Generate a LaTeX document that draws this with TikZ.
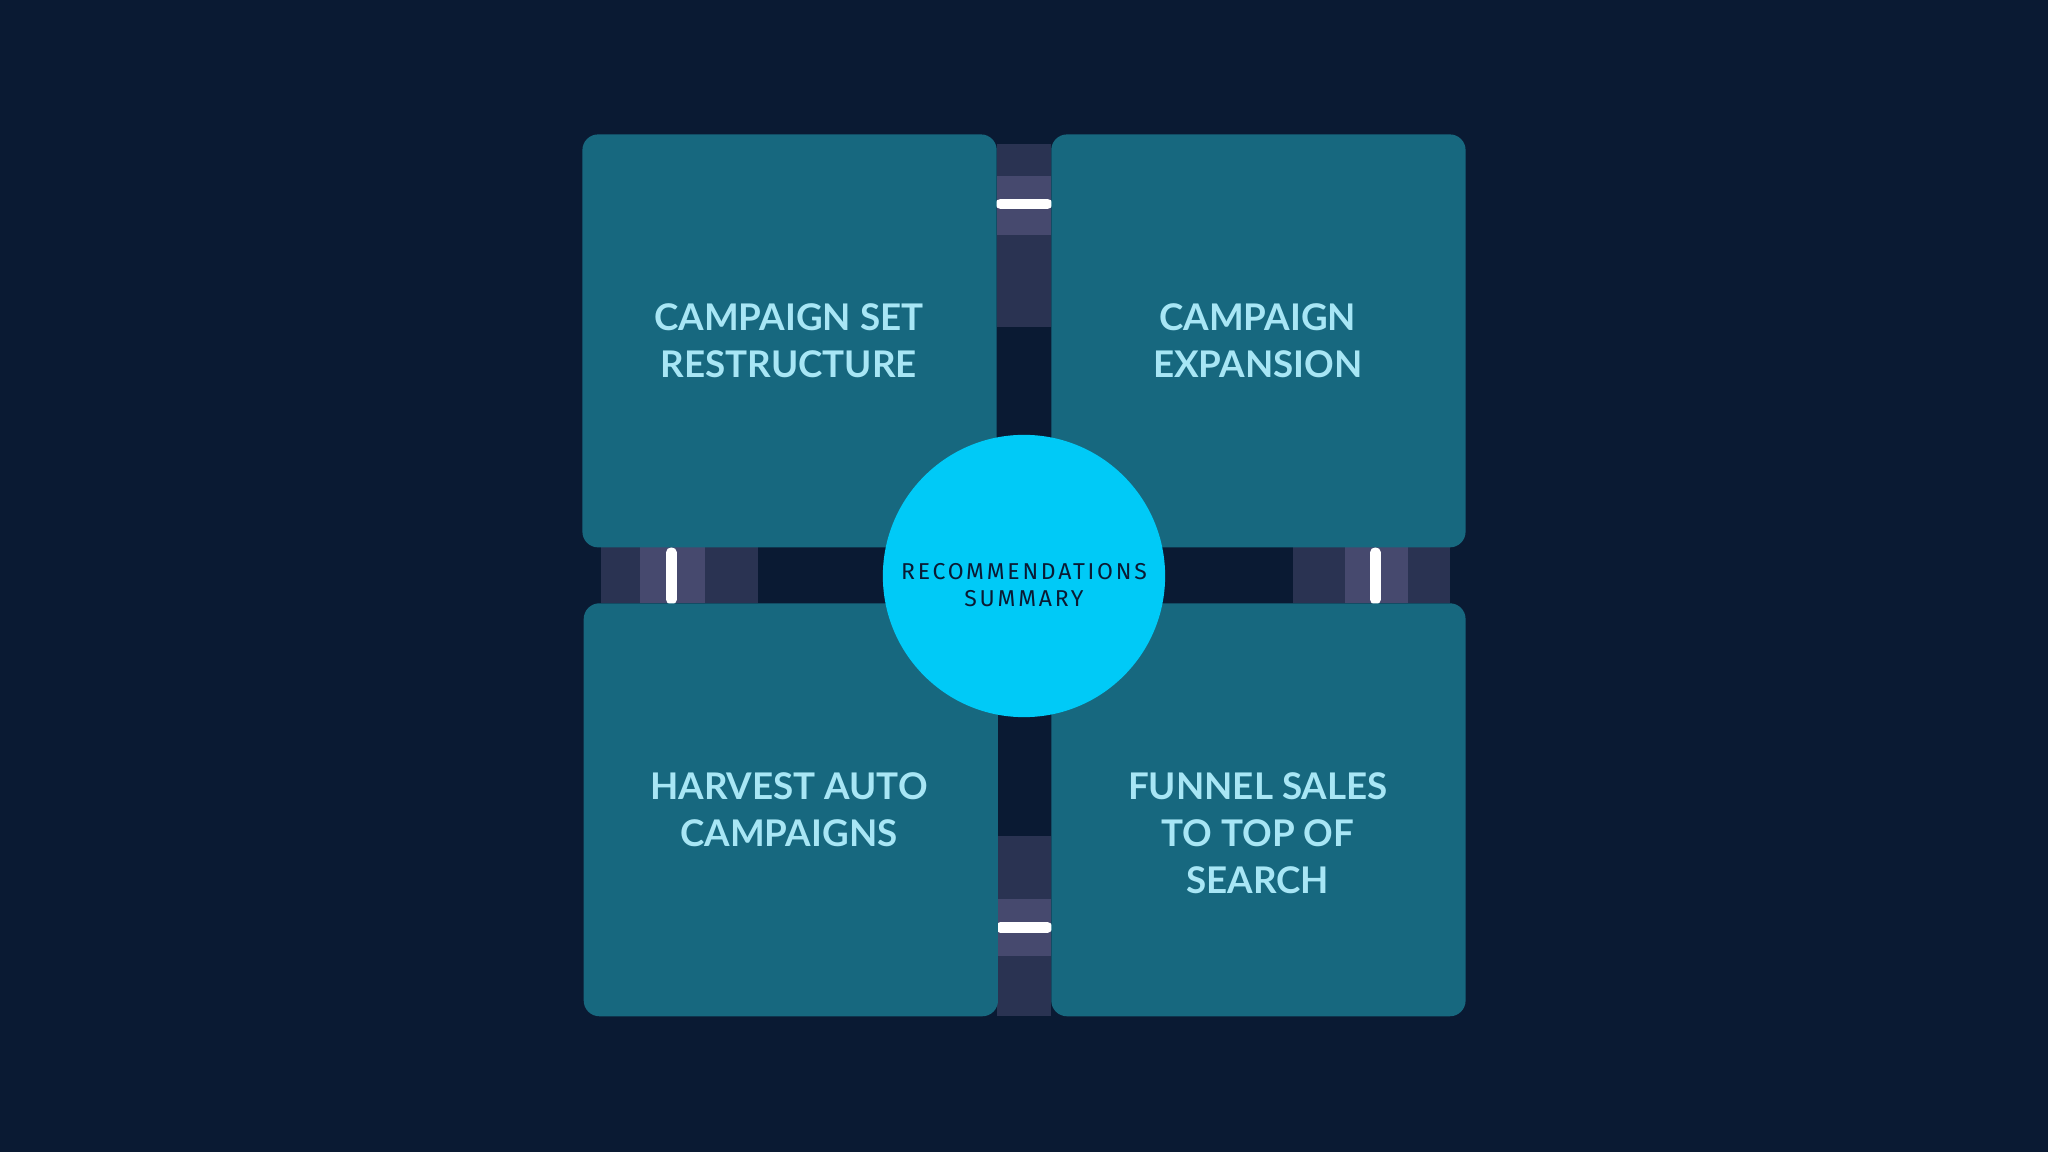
\documentclass[tikz,border=0pt]{standalone}
\usepackage{fontspec}
\setmainfont{Lato}
\newfontfamily\techfont{Fira Sans}
\definecolor{bg}{HTML}{0A1A33}
\definecolor{boxc}{HTML}{17687F}
\definecolor{txtc}{HTML}{A8E6F5}
\definecolor{circc}{HTML}{00CAF7}
\definecolor{glowc}{HTML}{8A7FB0}
\tikzset{
 card/.style={fill=boxc,rounded corners=0.12cm,draw=none},
 cardtxt/.style={text=txtc,font=\bfseries\fontsize{8}{10.2}\selectfont,align=center},
 glowv/.style={draw=glowc,line width=0.28cm,opacity=0.35},
 bar/.style={draw=white,line width=0.08cm,line cap=round}
}
\begin{document}
\begin{tikzpicture}[x=0.01cm,y=-0.01cm]
\fill[bg] (0,0) rectangle (1568,882);
\useasboundingbox (0,0) rectangle (1568,882);
% glows
\fill[glowc,opacity=0.25] (763,110) rectangle (805,250);
\fill[glowc,opacity=0.25] (763,640) rectangle (805,778);
\fill[glowc,opacity=0.25] (460,419) rectangle (580,462);
\fill[glowc,opacity=0.25] (990,419) rectangle (1110,462);
\fill[glowc,opacity=0.3] (763,135) rectangle (805,180);
\fill[glowc,opacity=0.3] (763,688) rectangle (805,732);
\fill[glowc,opacity=0.3] (490,419) rectangle (540,462);
\fill[glowc,opacity=0.3] (1030,419) rectangle (1078,462);
\draw[bar] (766,156) -- (802,156);
\draw[bar] (766,710) -- (802,710);
\draw[bar] (514,423) -- (514,459);
\draw[bar] (1053,423) -- (1053,459);
% cards
\node[card,minimum width=3.17cm,minimum height=3.16cm] (tl) at (604.5,261) {};
\node[card,minimum width=3.17cm,minimum height=3.16cm] (tr) at (963.5,261) {};
\node[card,minimum width=3.17cm,minimum height=3.16cm] (bl) at (605.5,620) {};
\node[card,minimum width=3.17cm,minimum height=3.16cm] (br) at (963.5,620) {};
\node[cardtxt] (tlt) at (604,261) {CAMPAIGN SET\\RESTRUCTURE};
\node[cardtxt] (trt) at (963,261) {CAMPAIGN\\EXPANSION};
\node[cardtxt] (blt) at (604,620) {HARVEST AUTO\\CAMPAIGNS};
\node[cardtxt] (brt) at (963,638) {FUNNEL SALES\\TO TOP OF\\SEARCH};
\node[circle,fill=circc,minimum size=2.16cm,inner sep=0pt] (c) at (784,441) {};
\node[align=center,text=bg,font=\techfont\fontsize{5}{6}\selectfont\addfontfeature{LetterSpace=12}] (ct) at (784,448) {RECOMMENDATIONS\\SUMMARY};
\end{tikzpicture}
\end{document}
